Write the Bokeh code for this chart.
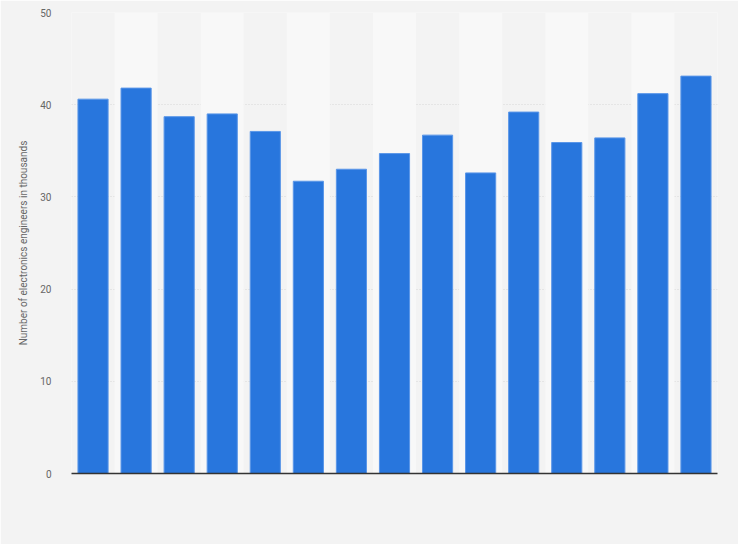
from bokeh.plotting import figure
from bokeh.models import ColumnDataSource, FixedTicker
from bokeh.embed import file_html
from bokeh.resources import INLINE

# one bar per year, no category labels shown in the original
positions = list(range(15))
engineers = [40.6, 41.8, 38.7, 39.0, 37.1, 31.7, 33.0, 34.7, 36.7, 32.6,
             39.2, 35.9, 36.4, 41.2, 43.1]
y_ticks = [0, 10, 20, 30, 40, 50]

source = ColumnDataSource(data=dict(x=positions, y=engineers))

p = figure(width=738, height=544, output_backend="svg", toolbar_location=None,
           x_range=(-0.5, 14.5), y_range=(0, 50),
           min_border_left=71, min_border_right=21,
           min_border_top=12, min_border_bottom=71)

p.background_fill_color = "#f3f3f3"
p.border_fill_color = "#f3f3f3"
p.outline_line_color = None

# light stripes behind every other category
stripe_x = [i for i in positions if i % 2 == 1]
p.vbar(x=stripe_x, width=1.0, bottom=0, top=50,
       fill_color="#f8f8f8", line_color=None)

p.vbar(x="x", top="y", width=0.7, source=source,
       fill_color="#2876dd", line_color="#5a96e8", line_width=1)

p.xgrid.grid_line_color = None
p.ygrid.grid_line_color = "#d6d6d6"
p.ygrid.grid_line_dash = "1 2"
p.ygrid.ticker = FixedTicker(ticks=y_ticks)

p.yaxis.ticker = FixedTicker(ticks=y_ticks)
p.yaxis.axis_line_color = None
p.yaxis.major_tick_line_color = None
p.yaxis.minor_tick_line_color = None
p.yaxis.major_label_text_font = "Roboto"
p.yaxis.major_label_text_font_size = "10px"
p.yaxis.major_label_text_color = "#666666"
p.yaxis.major_label_standoff = 14
p.yaxis.axis_label = "Number of electronics engineers in thousands"
p.yaxis.axis_label_text_font = "Roboto"
p.yaxis.axis_label_text_font_size = "10px"
p.yaxis.axis_label_text_font_style = "normal"
p.yaxis.axis_label_text_color = "#666666"
p.yaxis.axis_label_standoff = 8

p.xaxis.ticker = FixedTicker(ticks=[])
p.xaxis.axis_line_color = "#333333"
p.xaxis.axis_line_width = 1.5
p.xaxis.major_tick_line_color = None
p.xaxis.minor_tick_line_color = None

open("out.html", "w").write(file_html(p, INLINE))
